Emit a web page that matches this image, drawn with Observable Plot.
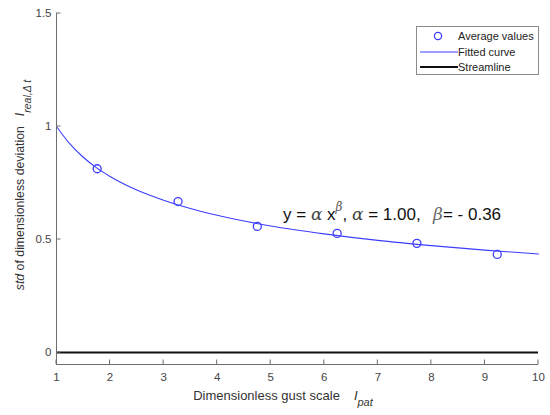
<!DOCTYPE html>
<html>
<head>
<meta charset="utf-8">
<script src="https://cdn.jsdelivr.net/npm/d3@7"></script>
<script src="https://cdn.jsdelivr.net/npm/@observablehq/plot@0.6"></script>
<style>
  body { margin: 0; background: #fff; }
  #wrap { position: relative; width: 550px; height: 415px; font-family: "Liberation Sans", Arial, sans-serif; }
  #legend { position: absolute; left: 416px; top: 26px; width: 123px; height: 49px; border: 1px solid #8a8a8a; background: #fff; box-sizing: border-box; font-size: 11px; color: #222; }
  .row { position: absolute; left: 0; height: 14px; display: flex; align-items: center; }
  .sym { width: 41px; height: 14px; position: relative; }
  .txt { margin-left: 0px; line-height: 14px; }
</style>
</head>
<body>
<div id="wrap"></div>
<script>
const pointX = [1.76, 3.27, 4.75, 6.24, 7.73, 9.23];
const pointY = [0.813, 0.668, 0.558, 0.527, 0.483, 0.434];
const curveX = [1, 1.25, 1.5, 1.75, 2, 2.5, 3, 3.5, 4, 5, 6, 7, 8, 9, 10];
const curveY = [1.0, 0.923, 0.864, 0.817, 0.779, 0.719, 0.674, 0.637, 0.607, 0.560, 0.525, 0.496, 0.473, 0.453, 0.436];
const streamY = [0];
const xTicks = [1, 2, 3, 4, 5, 6, 7, 8, 9, 10];
const yTicks = [0, 0.5, 1, 1.5];
const legendLabels = ["Average values", "Fitted curve", "Streamline"];

const points = pointX.map((x, i) => ({x, y: pointY[i]}));
const curve = curveX.map((x, i) => ({x, y: curveY[i]}));
const yMin = -0.053;
const blue = "#3d3dff";
const axisColor = "#6e6e6e";
const tickColor = "#444";

const plot = Plot.plot({
  width: 550,
  height: 415,
  marginLeft: 56,
  marginRight: 12,
  marginTop: 13,
  marginBottom: 51,
  style: {fontFamily: "Liberation Sans, Arial, sans-serif", fontSize: "11px", background: "#fff"},
  x: {domain: [1, 10]},
  y: {domain: [yMin, 1.5]},
  marks: [
    Plot.ruleY(streamY, {stroke: "#111", strokeWidth: 2}),
    Plot.line(curve, {x: "x", y: "y", stroke: blue, strokeWidth: 1.1, curve: "monotone-x"}),
    Plot.dot(points, {x: "x", y: "y", r: 4, stroke: blue, strokeWidth: 1.3, fill: "none"}),
    Plot.ruleX([1], {stroke: axisColor, strokeWidth: 1}),
    Plot.ruleY([yMin], {stroke: axisColor, strokeWidth: 1}),
    Plot.axisX({ticks: xTicks, tickSize: 0, tickPadding: 8, label: null, color: tickColor, fontSize: 11.5}),
    Plot.axisY({ticks: yTicks, tickSize: 0, tickPadding: 5, label: null, tickFormat: d => String(d), color: tickColor, fontSize: 11.5})
  ]
});

const wrap = document.getElementById("wrap");
wrap.appendChild(plot);

// Inward ticks, MATLAB-style
const svg = d3.select(plot);
const xs = plot.scale("x"), ys = plot.scale("y");
const g = svg.append("g").attr("stroke", axisColor).attr("stroke-width", 1);
xTicks.forEach(t => {
  const px = xs.apply(t), py = ys.apply(yMin);
  g.append("line").attr("x1", px).attr("x2", px).attr("y1", py).attr("y2", py - 4.5);
});
yTicks.forEach(t => {
  const py = ys.apply(t), px = xs.apply(1);
  g.append("line").attr("x1", px).attr("x2", px + 4.5).attr("y1", py).attr("y2", py);
});

const ff = "Liberation Sans, Arial, sans-serif";

// Axis labels with italic subscripts
const xl = svg.append("text").attr("x", 283).attr("y", 400).attr("text-anchor", "middle")
  .attr("fill", "#333").attr("font-size", 13).attr("font-family", ff);
xl.append("tspan").text("Dimensionless gust scale");
xl.append("tspan").attr("font-style", "italic").attr("dx", 14).text("I");
xl.append("tspan").attr("font-style", "italic").attr("font-size", 11).attr("dy", 6).text("pat");

const yl = svg.append("text").attr("transform", "translate(24,185) rotate(-90)").attr("text-anchor", "middle")
  .attr("fill", "#333").attr("font-size", 12.3).attr("font-family", ff);
yl.append("tspan").attr("font-style", "italic").text("std");
yl.append("tspan").text(" of dimensionless deviation");
yl.append("tspan").attr("font-style", "italic").attr("dx", 10).text("I");
yl.append("tspan").attr("font-style", "italic").attr("font-size", 10.5).attr("dy", 7).text("real,Δ t");

// Equation annotation
const eq = svg.append("text").attr("x", 283).attr("y", 220).attr("text-anchor", "start")
  .attr("fill", "#111").attr("font-size", 17).attr("font-family", ff);
eq.append("tspan").text("y = ");
eq.append("tspan").attr("font-family", "DejaVu Serif, serif").attr("font-style", "italic").attr("fill", "#444").text("α");
eq.append("tspan").text(" x");
eq.append("tspan").attr("font-family", "DejaVu Serif, serif").attr("font-style", "italic").attr("fill", "#555").attr("font-size", 12).attr("dy", -9).text("β");
eq.append("tspan").attr("dy", 9).text(", ");
eq.append("tspan").attr("font-family", "DejaVu Serif, serif").attr("font-style", "italic").attr("fill", "#444").text("α");
eq.append("tspan").text(" = 1.00,  ");
eq.append("tspan").attr("font-family", "DejaVu Serif, serif").attr("font-style", "italic").attr("fill", "#666").attr("dx", 3).text("β");
eq.append("tspan").text("= - 0.36");

// Legend
const leg = document.createElement("div");
leg.id = "legend";
const syms = [
  `<svg width="41" height="14"><circle cx="21" cy="7" r="3.6" fill="none" stroke="${blue}" stroke-width="1.3"/></svg>`,
  `<svg width="41" height="14"><line x1="3" x2="41" y1="7" y2="7" stroke="${blue}" stroke-width="1.1"/></svg>`,
  `<svg width="41" height="14"><line x1="3" x2="41" y1="7" y2="7" stroke="#111" stroke-width="2"/></svg>`
];
legendLabels.forEach((lab, i) => {
  const r = document.createElement("div");
  r.className = "row";
  r.style.top = (2 + i * 15.5) + "px";
  r.innerHTML = `<div class="sym">${syms[i]}</div><div class="txt">${lab}</div>`;
  leg.appendChild(r);
});
wrap.appendChild(leg);
</script>
</body>
</html>
